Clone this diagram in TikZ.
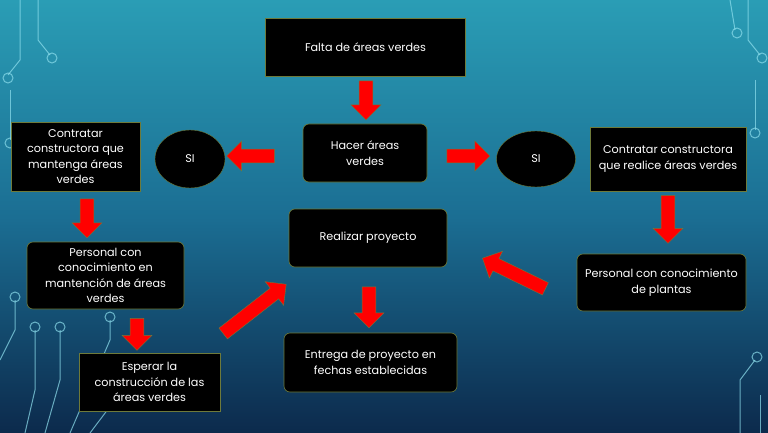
\documentclass[tikz,border=0pt]{standalone}
\usepackage{fontspec}
\setmainfont{Poppins}
\usetikzlibrary{arrows.meta,shapes.geometric,shapes.arrows}
\definecolor{bgtop}{HTML}{2A9DB5}
\definecolor{bgmid}{HTML}{1B6E93}
\definecolor{bgbot}{HTML}{0C2A4C}
\definecolor{edge}{HTML}{6E7A3A}
\definecolor{circ}{HTML}{8FE0EE}
\tikzset{
  box/.style={draw=edge, line width=0.6pt, fill=black, text=white, align=center, font=\fontsize{11.2}{15.5}\selectfont, minimum width=#1, inner sep=2pt},
  rbox/.style={box=#1, rounded corners=6pt},
  oval/.style={draw=edge, fill=black, text=white, ellipse, font=\fontsize{11.2}{15.5}\selectfont},
  cl/.style={draw=circ, line width=1pt, opacity=0.7},
  barrow/.style={single arrow, fill=red, draw=edge, line width=0.4pt, minimum height=#1, minimum width=30pt, single arrow head extend=5pt, inner sep=4pt, single arrow tip angle=90}
}
\begin{document}
\begin{tikzpicture}[x=1pt,y=-1pt]
\path[top color=bgtop, bottom color=bgbot, middle color=bgmid] (0,0) rectangle (768,433);
\useasboundingbox (0,0) rectangle (768,433);
\foreach \p in {{(20,0)--(20,60)--(8,75)}, {(38,0)--(38,40)--(50,55)}, {(10,90)--(10,140)}, {(0,360)--(15,330)--(15,300)}, {(25,433)--(35,390)--(35,330)}, {(45,433)--(60,380)--(60,330)}, {(70,433)--(110,340)--(110,320)}, {(90,433)--(130,380)}, {(748,0)--(748,40)--(760,55)}, {(730,0)--(735,30)}, {(755,80)--(755,130)}, {(740,433)--(740,380)--(755,360)}, {(760,433)--(760,395)}}
  \draw[cl] \p;
\foreach \c in {{(8,78)},{(52,58)},{(10,143)},{(15,297)},{(35,327)},{(60,327)},{(110,317)},{(133,377)},{(762,58)},{(737,33)},{(755,133)},{(757,357)}}
  \draw[cl] \c circle (5);

\node[box=200pt, minimum height=58pt] (falta) at (365.5,47) {Falta de áreas verdes};
\node[rbox=124pt, minimum height=58pt] (hacer) at (365,153) {Hacer áreas\\verdes};
\node[oval, minimum width=70pt, minimum height=58pt] (si1) at (190,159) {SI};
\node[oval, minimum width=79pt, minimum height=56pt] (si2) at (536,159) {SI};
\node[box=129pt, minimum height=69pt] (c1) at (75.5,156.5) {Contratar\\constructora que\\mantenga áreas\\verdes};
\node[box=156pt, minimum height=64pt] (c2) at (668,159) {Contratar constructora\\que realice áreas verdes};
\node[rbox=158pt, minimum height=58pt] (real) at (368,238) {Realizar proyecto};
\node[rbox=169pt, minimum height=57pt] (p2) at (661.5,282.5) {Personal con conocimiento\\de plantas};
\node[rbox=157pt, minimum height=67pt] (p1) at (105.5,275.5) {Personal con\\conocimiento en\\mantención de áreas\\verdes};
\node[box=141pt, minimum height=58pt] (esp) at (149.5,382) {Esperar la\\construcción de las\\áreas verdes};
\node[rbox=173pt, minimum height=59pt] (ent) at (370.5,362.5) {Entrega de proyecto en\\fechas establecidas};

\node[barrow=39pt, rotate=-90] (a1) at (366,97) {};
\node[barrow=48pt, rotate=180] (a2) at (254,156) {};
\node[barrow=43pt] (a3) at (465,156) {};
\node[barrow=39pt, rotate=-90] (a4) at (87,215) {};
\node[barrow=48pt, rotate=-90] (a5) at (668,216) {};
\node[barrow=32pt, rotate=-90] (a6) at (137,331) {};
\node[barrow=80pt, rotate=38] (a7) at (252,311) {};
\node[barrow=70pt, rotate=154] (a8) at (517,275) {};
\node[barrow=41pt, rotate=-90] (a9) at (369,304) {};
\end{tikzpicture}
\end{document}
